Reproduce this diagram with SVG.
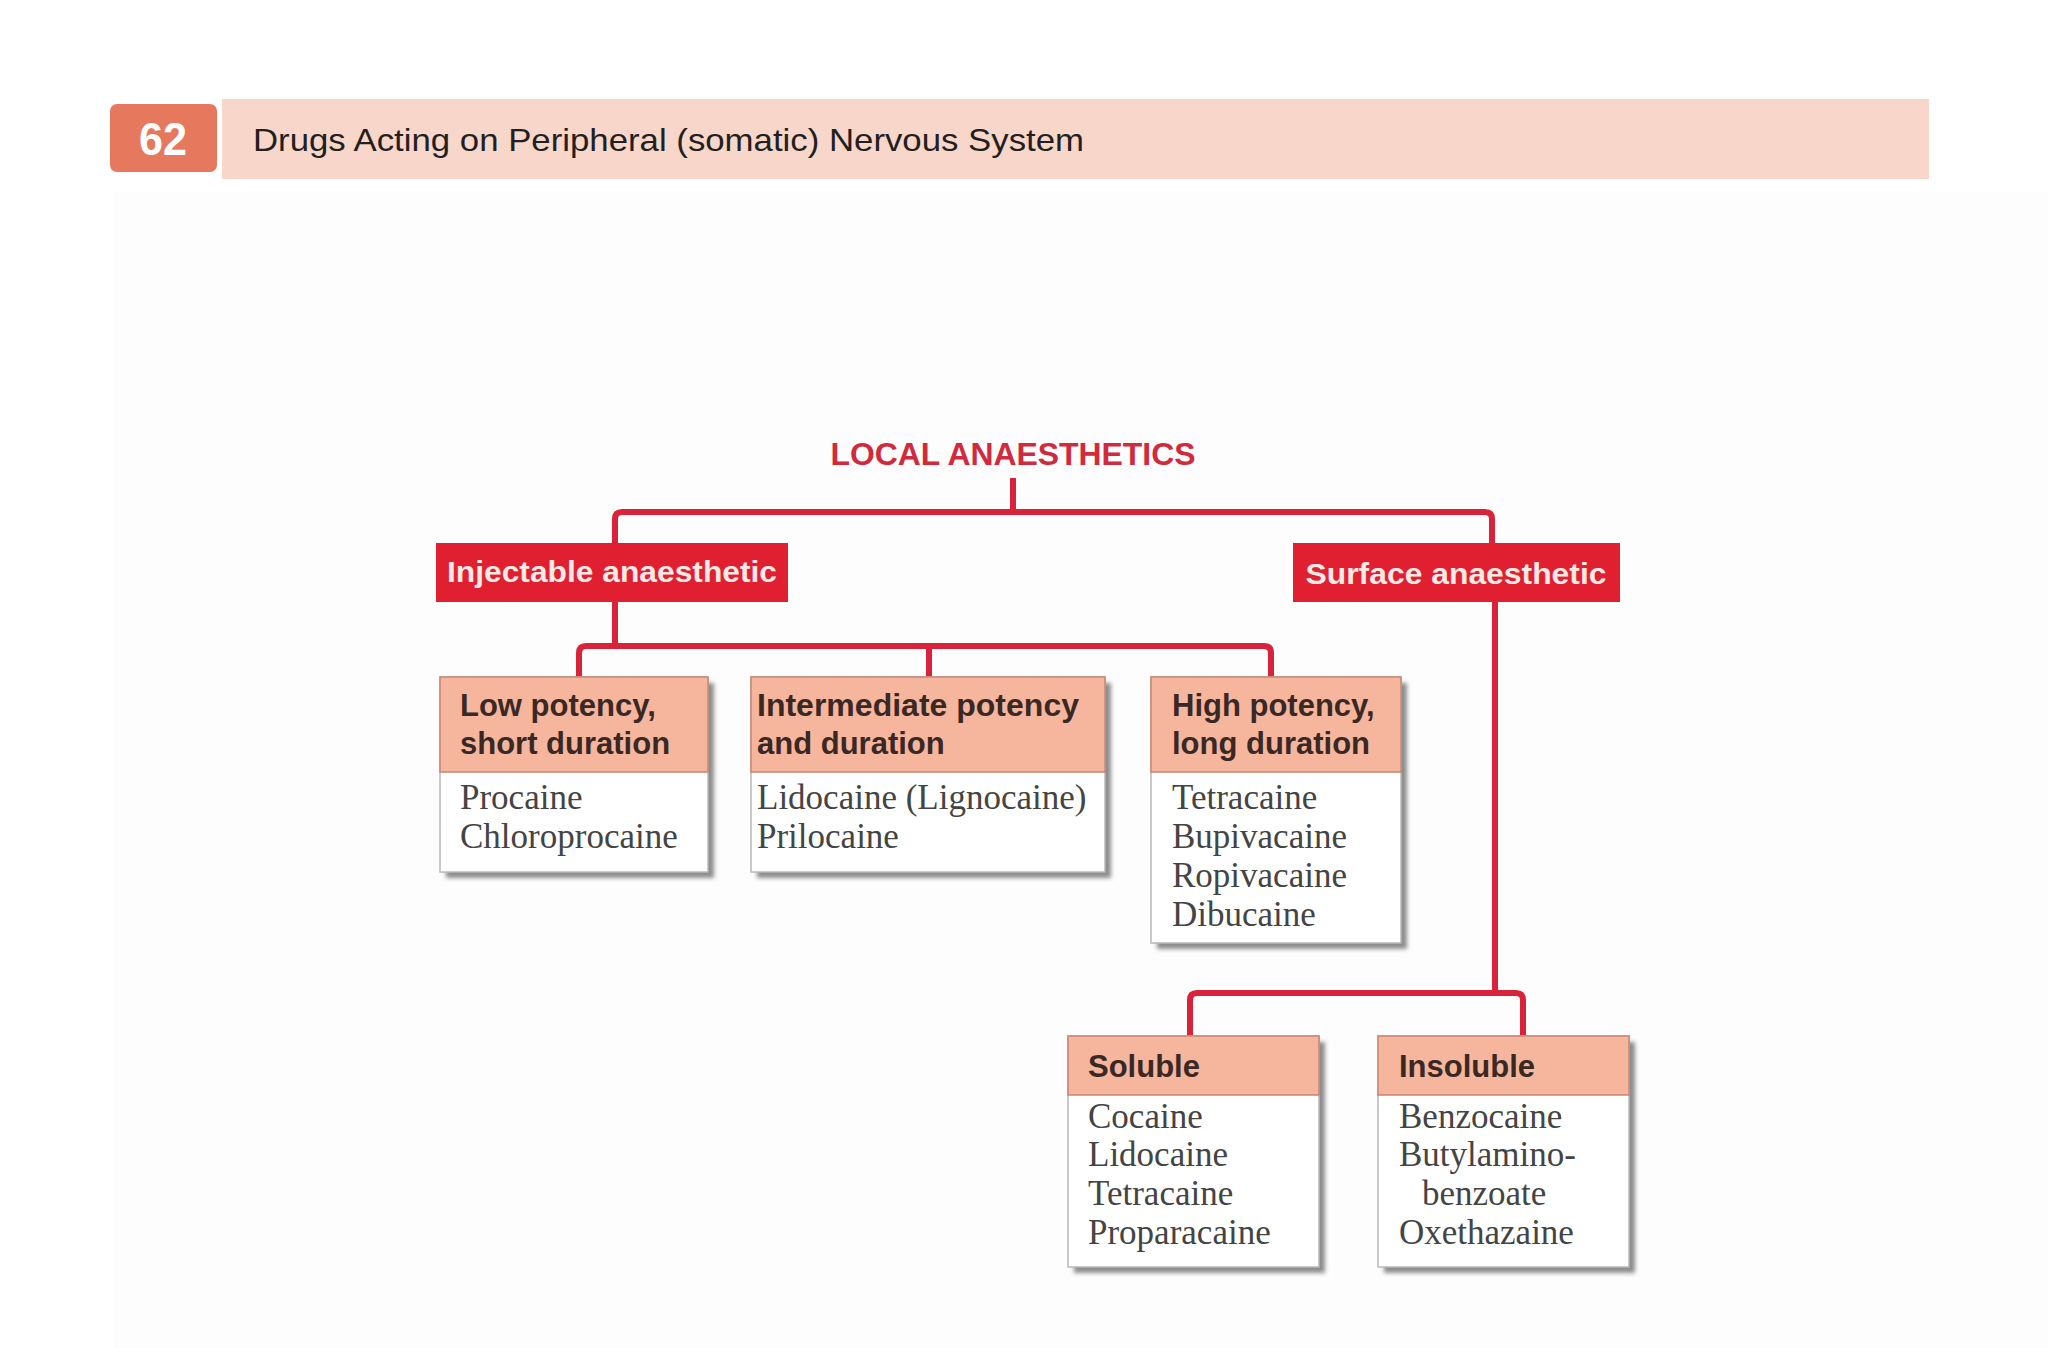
<svg xmlns="http://www.w3.org/2000/svg" width="2048" height="1348" viewBox="0 0 2048 1348">
<defs>
<filter id="sh" x="-10%" y="-10%" width="130%" height="130%"><feGaussianBlur stdDeviation="2"/></filter>
<style>
.hd{font-family:"Liberation Sans",Arial,sans-serif;font-weight:bold;font-size:31px;fill:#3a2824}
.bd{font-family:"Liberation Serif","Times New Roman",serif;font-size:35px;fill:#444444}
.red{fill:#e01f30}
.wt{font-family:"Liberation Sans",Arial,sans-serif;font-weight:bold;font-size:30px;fill:#fbe9e6}
.hfill{fill:#f6b59d;stroke:#c98772;stroke-width:1.5}
.body{fill:#ffffff;stroke:#b8b8b8;stroke-width:1.5}
.shadow{fill:#8c8c8c;filter:url(#sh)}
.conn{fill:none;stroke:#d8233a;stroke-width:6;stroke-linejoin:round;stroke-linecap:butt}
</style>
</defs>
<rect width="2048" height="1348" fill="#ffffff"/>
<rect x="114" y="192" width="1934" height="1156" fill="#fdfdfd"/>
<g id="header">
<rect x="222" y="99" width="1707" height="80" fill="#f8d6c9"/>
<rect x="110" y="104" width="107" height="68" rx="7" fill="#e6795d"/>
<text x="163" y="155" text-anchor="middle" font-family="Liberation Sans,Arial,sans-serif" font-weight="bold" font-size="46" fill="#ffffff" textLength="48" lengthAdjust="spacingAndGlyphs">62</text>
<text x="253" y="151" font-family="Liberation Sans,Arial,sans-serif" font-size="32" fill="#231f20" textLength="831" lengthAdjust="spacingAndGlyphs">Drugs Acting on Peripheral (somatic) Nervous System</text>
</g>
<g id="connectors">
<path class="conn" d="M1013,478 V512"/>
<path class="conn" d="M615,543 V519 Q615,512 622,512 H1485 Q1492,512 1492,519 V543"/>
<path class="conn" d="M615,602 V646"/>
<path class="conn" d="M579,677 V653 Q579,646 586,646 H1264 Q1271,646 1271,653 V677"/>
<path class="conn" d="M929,646 V677"/>
<path class="conn" d="M1495,602 V993"/>
<path class="conn" d="M1190,1036 V1000 Q1190,993 1197,993 H1516 Q1523,993 1523,1000 V1036"/>
</g>
<g id="root">
<text x="1013" y="465" text-anchor="middle" font-family="Liberation Sans,Arial,sans-serif" font-weight="bold" font-size="32" fill="#d02a3c" textLength="365" lengthAdjust="spacingAndGlyphs">LOCAL ANAESTHETICS</text>
</g>
<g id="injectable">
<rect x="436" y="543" width="352" height="59" class="red"/>
<text x="612" y="582" text-anchor="middle" class="wt" textLength="330" lengthAdjust="spacingAndGlyphs">Injectable anaesthetic</text>
</g>
<g id="surface">
<rect x="1293" y="543" width="327" height="59" class="red"/>
<text x="1456" y="584" text-anchor="middle" class="wt" textLength="301" lengthAdjust="spacingAndGlyphs">Surface anaesthetic</text>
</g>
<g id="low">
<rect x="446" y="683" width="268" height="195" class="shadow"/>
<rect x="440" y="677" width="268" height="195" class="body"/>
<rect x="440" y="677" width="268" height="95" class="hfill"/>
<text x="460" y="716" class="hd">Low potency,</text>
<text x="460" y="754" class="hd">short duration</text>
<text x="460" y="809" class="bd">Procaine</text>
<text x="460" y="848" class="bd">Chloroprocaine</text>
</g>
<g id="intermediate">
<rect x="757" y="683" width="354" height="195" class="shadow"/>
<rect x="751" y="677" width="354" height="195" class="body"/>
<rect x="751" y="677" width="354" height="95" class="hfill"/>
<text x="757" y="716" class="hd" textLength="322" lengthAdjust="spacingAndGlyphs">Intermediate potency</text>
<text x="757" y="754" class="hd">and duration</text>
<text x="757" y="809" class="bd">Lidocaine (Lignocaine)</text>
<text x="757" y="848" class="bd">Prilocaine</text>
</g>
<g id="high">
<rect x="1157" y="683" width="250" height="266" class="shadow"/>
<rect x="1151" y="677" width="250" height="266" class="body"/>
<rect x="1151" y="677" width="250" height="95" class="hfill"/>
<text x="1172" y="716" class="hd">High potency,</text>
<text x="1172" y="754" class="hd">long duration</text>
<text x="1172" y="809" class="bd">Tetracaine</text>
<text x="1172" y="848" class="bd">Bupivacaine</text>
<text x="1172" y="887" class="bd">Ropivacaine</text>
<text x="1172" y="926" class="bd">Dibucaine</text>
</g>
<g id="soluble">
<rect x="1074" y="1042" width="251" height="231" class="shadow"/>
<rect x="1068" y="1036" width="251" height="231" class="body"/>
<rect x="1068" y="1036" width="251" height="59" class="hfill"/>
<text x="1088" y="1077" class="hd">Soluble</text>
<text x="1088" y="1128" class="bd">Cocaine</text>
<text x="1088" y="1166" class="bd">Lidocaine</text>
<text x="1088" y="1205" class="bd">Tetracaine</text>
<text x="1088" y="1244" class="bd">Proparacaine</text>
</g>
<g id="insoluble">
<rect x="1384" y="1042" width="251" height="231" class="shadow"/>
<rect x="1378" y="1036" width="251" height="231" class="body"/>
<rect x="1378" y="1036" width="251" height="59" class="hfill"/>
<text x="1399" y="1077" class="hd">Insoluble</text>
<text x="1399" y="1128" class="bd">Benzocaine</text>
<text x="1399" y="1166" class="bd">Butylamino-</text>
<text x="1422" y="1205" class="bd">benzoate</text>
<text x="1399" y="1244" class="bd">Oxethazaine</text>
</g>
</svg>
